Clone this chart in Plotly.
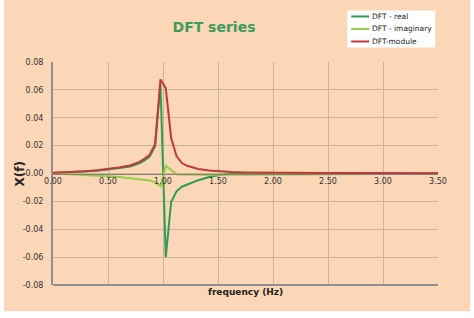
import plotly.graph_objects as go

freq = [0.00, 0.10, 0.20, 0.30, 0.40, 0.50, 0.60, 0.70, 0.78, 0.83, 0.879, 0.928,
        0.977, 1.025, 1.074, 1.123, 1.172, 1.22, 1.27, 1.32, 1.42, 1.52, 1.62, 1.75,
        2.00, 2.25, 2.50, 2.75, 3.00, 3.25, 3.50]

dft_real = [0.0003, 0.0006, 0.0010, 0.0014, 0.0020, 0.0028, 0.0037, 0.0050, 0.0072, 0.0093, 0.0122, 0.0195,
            0.0640, -0.0600, -0.0205, -0.0128, -0.0095, -0.0078, -0.0062, -0.0048, -0.0025, -0.0010, -0.0002, 0.0,
            0.0, 0.0, 0.0, 0.0, 0.0, 0.0, 0.0]

dft_imag = [0.0, -0.0003, -0.0007, -0.0011, -0.0015, -0.0020, -0.0026, -0.0033, -0.0040, -0.0045, -0.0050, -0.0062,
            -0.0092, 0.0055, 0.0022, -0.0005, -0.0008, -0.0009, -0.0009, -0.0009, -0.0009, -0.0009, -0.0008, -0.0008,
            -0.0008, -0.0007, -0.0006, -0.0005, -0.0004, -0.0003, -0.0002]

dft_module = [0.0005, 0.0008, 0.0012, 0.0017, 0.0024, 0.0033, 0.0043, 0.0058, 0.0082, 0.0105, 0.0135, 0.0210,
              0.0675, 0.0612, 0.0255, 0.0125, 0.0075, 0.0055, 0.0042, 0.0032, 0.0021, 0.0014, 0.0010, 0.0008,
              0.0005, 0.0004, 0.0003, 0.0003, 0.0002, 0.0002, 0.0002]

series_names = ["DFT - real", "DFT - imaginary", "DFT-module"]
series_colors = ["#2E9B57", "#96CC45", "#C0393A"]

x_ticks = [0.0, 0.5, 1.0, 1.5, 2.0, 2.5, 3.0, 3.5]
y_ticks = [0.08, 0.06, 0.04, 0.02, 0.0, -0.02, -0.04, -0.06, -0.08]

PEACH = "#FBD7B7"
GRID = "#CDB39B"
FONT = "DejaVu Sans"

# plot-area geometry in pixels (for paper-coordinate placement of decorations)
L, R, T, B = 53, 437.7, 62, 284.7
W, H = R - L, B - T


def px(x):
    return (x - L) / W


def py(y):
    return (B - y) / H


fig = go.Figure()
for vals, name, col in zip([dft_real, dft_imag, dft_module], series_names, series_colors):
    fig.add_trace(go.Scatter(x=freq, y=vals, mode="lines", name=name,
                             line=dict(color=col, width=2), showlegend=False))

shapes = [
    dict(type="rect", xref="paper", yref="paper", layer="below",
         x0=px(4), x1=px(470), y0=py(311), y1=py(0),
         fillcolor=PEACH, line=dict(width=0)),
    dict(type="line", xref="paper", yref="paper", x0=0, x1=1, y0=0, y1=0,
         line=dict(color="#8F8F8F", width=2)),
    dict(type="rect", xref="paper", yref="paper",
         x0=px(347), x1=px(435), y0=py(47.5), y1=py(10.5),
         fillcolor="white", line=dict(width=0)),
]
annotations = [
    dict(text="<b>X(f)</b>", xref="paper", yref="paper", x=px(20), y=0.5,
         textangle=-90, showarrow=False, xanchor="center", yanchor="middle",
         font=dict(family=FONT, size=12, color="#222222")),
    dict(text="<b>frequency (Hz)</b>", xref="paper", yref="paper", x=0.5,
         y=py(292), showarrow=False, xanchor="center", yanchor="middle",
         font=dict(family=FONT, size=9, color="#222222")),
]
for i, (name, col) in enumerate(zip(series_names, series_colors)):
    yy = 16.5 + 12.5 * i
    shapes.append(dict(type="line", xref="paper", yref="paper",
                       x0=px(351), x1=px(369), y0=py(yy), y1=py(yy),
                       line=dict(color=col, width=2)))
    annotations.append(dict(text=name, xref="paper", yref="paper", x=px(370), y=py(yy),
                            xanchor="left", yanchor="middle", showarrow=False,
                            font=dict(family=FONT, size=7.5, color="#222222")))

fig.update_layout(
    width=474, height=318,
    margin=dict(l=L, r=474 - R, t=T, b=318 - B),
    paper_bgcolor="white",
    plot_bgcolor=PEACH,
    font=dict(family=FONT, size=8, color="#333333"),
    title=dict(text="<b>DFT series</b>", x=214 / 474, xref="container", xanchor="center",
               y=1 - 27 / 318, yref="container", yanchor="middle",
               font=dict(family=FONT, size=14, color="#3C9C5C")),
    showlegend=False,
    xaxis=dict(range=[0, 3.5], tickvals=x_ticks, ticktext=[f"{v:.2f}" for v in x_ticks],
               showgrid=True, gridcolor=GRID, gridwidth=1, zeroline=False,
               anchor="free", position=0.5, showline=True, linecolor="#8A7F76", linewidth=1,
               ticks="", tickfont=dict(size=8, color="#333333")),
    yaxis=dict(range=[-0.08, 0.08], tickvals=y_ticks, ticktext=[f"{v:.2f}" for v in y_ticks],
               showgrid=True, gridcolor=GRID, gridwidth=1, zeroline=False,
               showline=True, linecolor="#8F8F8F", linewidth=2, ticks="",
               ticklabelstandoff=6, tickfont=dict(size=8, color="#333333")),
    shapes=shapes,
    annotations=annotations,
)

fig.write_html("out.html")
